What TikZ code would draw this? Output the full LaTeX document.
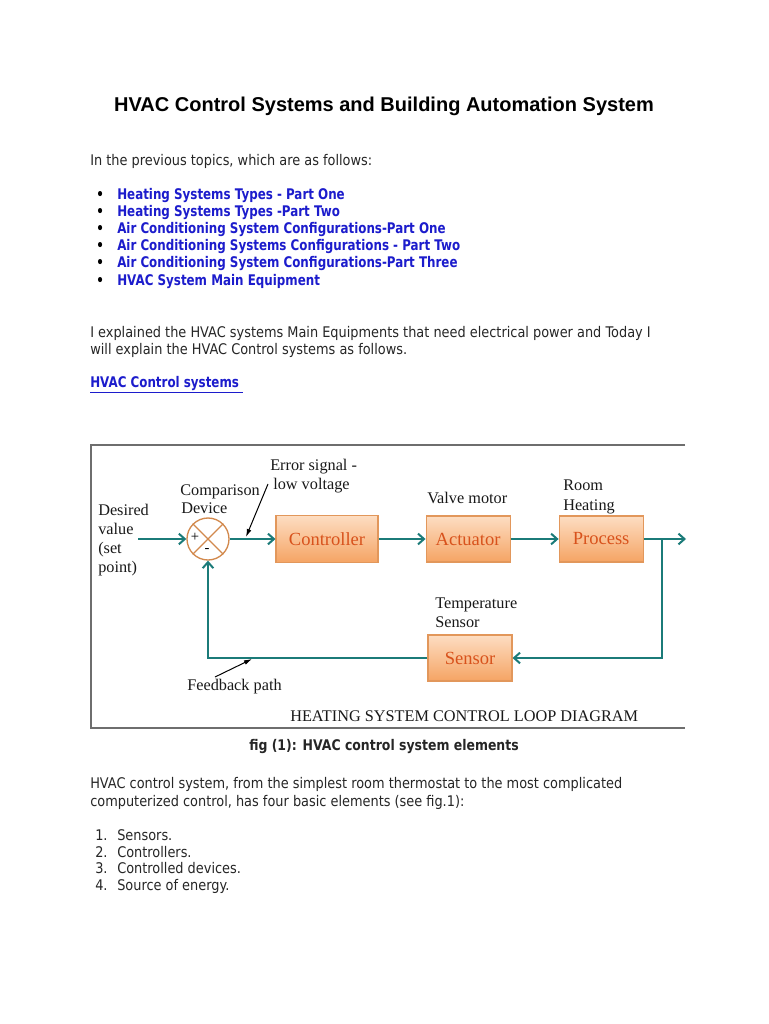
\documentclass[tikz,border=0pt]{standalone}
\usepackage{fontspec}
\setmainfont{DejaVu Sans}[FakeStretch=0.88]
\newfontfamily\linkfont{DejaVu Sans}[FakeStretch=0.81]
\newfontfamily\capfont{DejaVu Sans}[FakeStretch=0.85]
\newfontfamily\headfont{Liberation Sans}
\newfontfamily\figfont{Liberation Serif}
\usepackage{tikz}
\usetikzlibrary{arrows.meta,positioning}
\definecolor{bodygray}{HTML}{262626}
\definecolor{linkblue}{HTML}{1C1CCC}
\definecolor{loopteal}{HTML}{1B7B79}
\definecolor{boxtop}{HTML}{FDDDC2}
\definecolor{boxbottom}{HTML}{F5A464}
\definecolor{boxline}{HTML}{E2975B}
\definecolor{boxlabel}{HTML}{D8521C}
\definecolor{sumline}{HTML}{D2894D}
\definecolor{framegray}{HTML}{6E6E6E}
\tikzset{
  pagetext/.style={
    anchor=base west,
    inner sep=0pt,
    text=bodygray,
    font=\fontsize{11}{13}\selectfont
  },
  linktext/.style={pagetext, text=linkblue, font=\linkfont\fontsize{11}{13}\selectfont\bfseries},
  headtext/.style={anchor=base, inner sep=0pt, text=black, font=\headfont\fontsize{15}{18}\selectfont\bfseries},
  captiontext/.style={anchor=base, inner sep=0pt, text=bodygray, font=\capfont\fontsize{11}{13}\selectfont\bfseries},
  figtext/.style={anchor=base west, inner sep=0pt, text=black!90, font=\figfont\fontsize{12.2}{14.2}\selectfont},
  loopbox/.style={
    draw=boxline,
    top color=boxtop,
    bottom color=boxbottom,
    text=boxlabel,
    line width=0.8pt,
    minimum width=63pt,
    minimum height=34.5pt,
    inner sep=0pt,
    font=\figfont\fontsize{13.9}{16}\selectfont
  },
  loopboxwide/.style={loopbox, minimum width=76.5pt, minimum height=35pt},
  sumnode/.style={circle, draw=sumline, fill=white, line width=1pt, minimum size=31.5pt, inner sep=0pt},
  signtext/.style={inner sep=0pt, font=\figfont\fontsize{11}{12}\selectfont},
  flowline/.style={draw=loopteal, line width=1.5pt},
  flowarrow/.style={flowline, -{Straight Barb[length=4.5pt,width=8pt,line width=1.5pt]}},
  pointer/.style={-{Latex[length=6pt,width=3.6pt]}, draw=black, line width=0.75pt}
}

\begin{document}
\begin{tikzpicture}[x=0.75pt,y=-0.75pt]
  \useasboundingbox[fill=white] (0,0) rectangle (768,1024);
  % page text above the figure
  \node[headtext] (title) at (384,112) {HVAC Control Systems and Building Automation System};
  \node[pagetext] (intro) at (90,165) {In the previous topics, which are as follows:};
  \node[linktext] (topicA) at (96,199) {\makebox[15.75pt][l]{\textcolor{black}{\textbullet}}Heating Systems Types - Part One};
  \node[linktext] (topicB) at (96,216) {\makebox[15.75pt][l]{\textcolor{black}{\textbullet}}Heating Systems Types -Part Two};
  \node[linktext] (topicC) at (96,233) {\makebox[15.75pt][l]{\textcolor{black}{\textbullet}}Air Conditioning System Configurations-Part One};
  \node[linktext] (topicD) at (96,250) {\makebox[15.75pt][l]{\textcolor{black}{\textbullet}}Air Conditioning Systems Configurations - Part Two};
  \node[linktext] (topicE) at (96,267) {\makebox[15.75pt][l]{\textcolor{black}{\textbullet}}Air Conditioning System Configurations-Part Three};
  \node[linktext] (topicF) at (96,285) {\makebox[15.75pt][l]{\textcolor{black}{\textbullet}}HVAC System Main Equipment};
  \node[pagetext] (explainA) at (90,337) {I explained the HVAC systems Main Equipments that need electrical power and Today I};
  \node[pagetext] (explainB) at (90,354) {will explain the HVAC Control systems as follows.};
  \node[linktext] (controllink) at (90,387) {\underline{HVAC Control systems\ }};

  % figure frame
  \draw[framegray, line width=1pt] (685,445) -- (91,445) -- (91,728) -- (685,728);

  % control loop
  \node[sumnode] (sum) at (208,539) {};
  \draw[sumline, line width=1pt] (sum.north west) -- (sum.south east) (sum.north east) -- (sum.south west);
  \node[signtext] (plus) at (195,537.5) {+};
  \node[signtext] (minus) at (207,550) {-};
  \node[loopboxwide] (controller) at (327,539) {Controller};
  \node[loopbox, right=35.25pt of controller] (actuator) {Actuator};
  \node[loopbox, right=36pt of actuator] (process) {Process};
  \node[loopbox] (sensor) at (470,658) {Sensor};
  \coordinate (setpoint) at (138,539);
  \coordinate (output) at (686,539);
  \coordinate (branch) at (662,539);
  \draw[flowarrow] (setpoint) -- (sum);
  \draw[flowarrow] (sum) -- (controller);
  \draw[flowarrow] (controller) -- (actuator);
  \draw[flowarrow] (actuator) -- (process);
  \draw[flowarrow] (process) -- (output);
  \draw[flowarrow] (branch) |- (sensor.east);
  \draw[flowarrow] (sensor.west) -| (sum.south);

  % labels round the loop
  \node[figtext] (desiredA) at (98,515) {Desired};
  \node[figtext] (desiredB) at (98,534) {value};
  \node[figtext] (desiredC) at (98,553) {(set};
  \node[figtext] (desiredD) at (98,572) {point)};
  \node[figtext] (compareA) at (180,495) {Comparison};
  \node[figtext] (compareB) at (181,513) {Device};
  \node[figtext] (errorA) at (270,470) {Error signal -};
  \node[figtext] (errorB) at (273,489) {low voltage};
  \node[figtext] (valve) at (427,503) {Valve motor};
  \node[figtext] (roomA) at (563,490) {Room};
  \node[figtext] (roomB) at (563,510) {Heating};
  \node[figtext] (tempA) at (435,608) {Temperature};
  \node[figtext] (tempB) at (435,627) {Sensor};
  \node[figtext] (feedback) at (187,690) {Feedback path};
  \node[figtext] (loopname) at (290,721) {HEATING SYSTEM CONTROL LOOP DIAGRAM};
  \coordinate (errtail) at (268,484);
  \coordinate (errtip) at (246,537);
  \coordinate (fbtail) at (215,677);
  \coordinate (fbtip) at (252,659);
  \draw[pointer] (errtail) -- (errtip);
  \draw[pointer] (fbtail) -- (fbtip);

  % page text below the figure
  \node[captiontext] (caption) at (384,750) {fig (1): HVAC control system elements};
  \node[pagetext] (bodyA) at (90,788) {HVAC control system, from the simplest room thermostat to the most complicated};
  \node[pagetext] (bodyB) at (90,806) {computerized control, has four basic elements (see fig.1):};
  \node[pagetext] (itemA) at (95,840) {\makebox[16.5pt][l]{1.}Sensors.};
  \node[pagetext] (itemB) at (95,857) {\makebox[16.5pt][l]{2.}Controllers.};
  \node[pagetext] (itemC) at (95,873) {\makebox[16.5pt][l]{3.}Controlled devices.};
  \node[pagetext] (itemD) at (95,890) {\makebox[16.5pt][l]{4.}Source of energy.};
\end{tikzpicture}
\end{document}
